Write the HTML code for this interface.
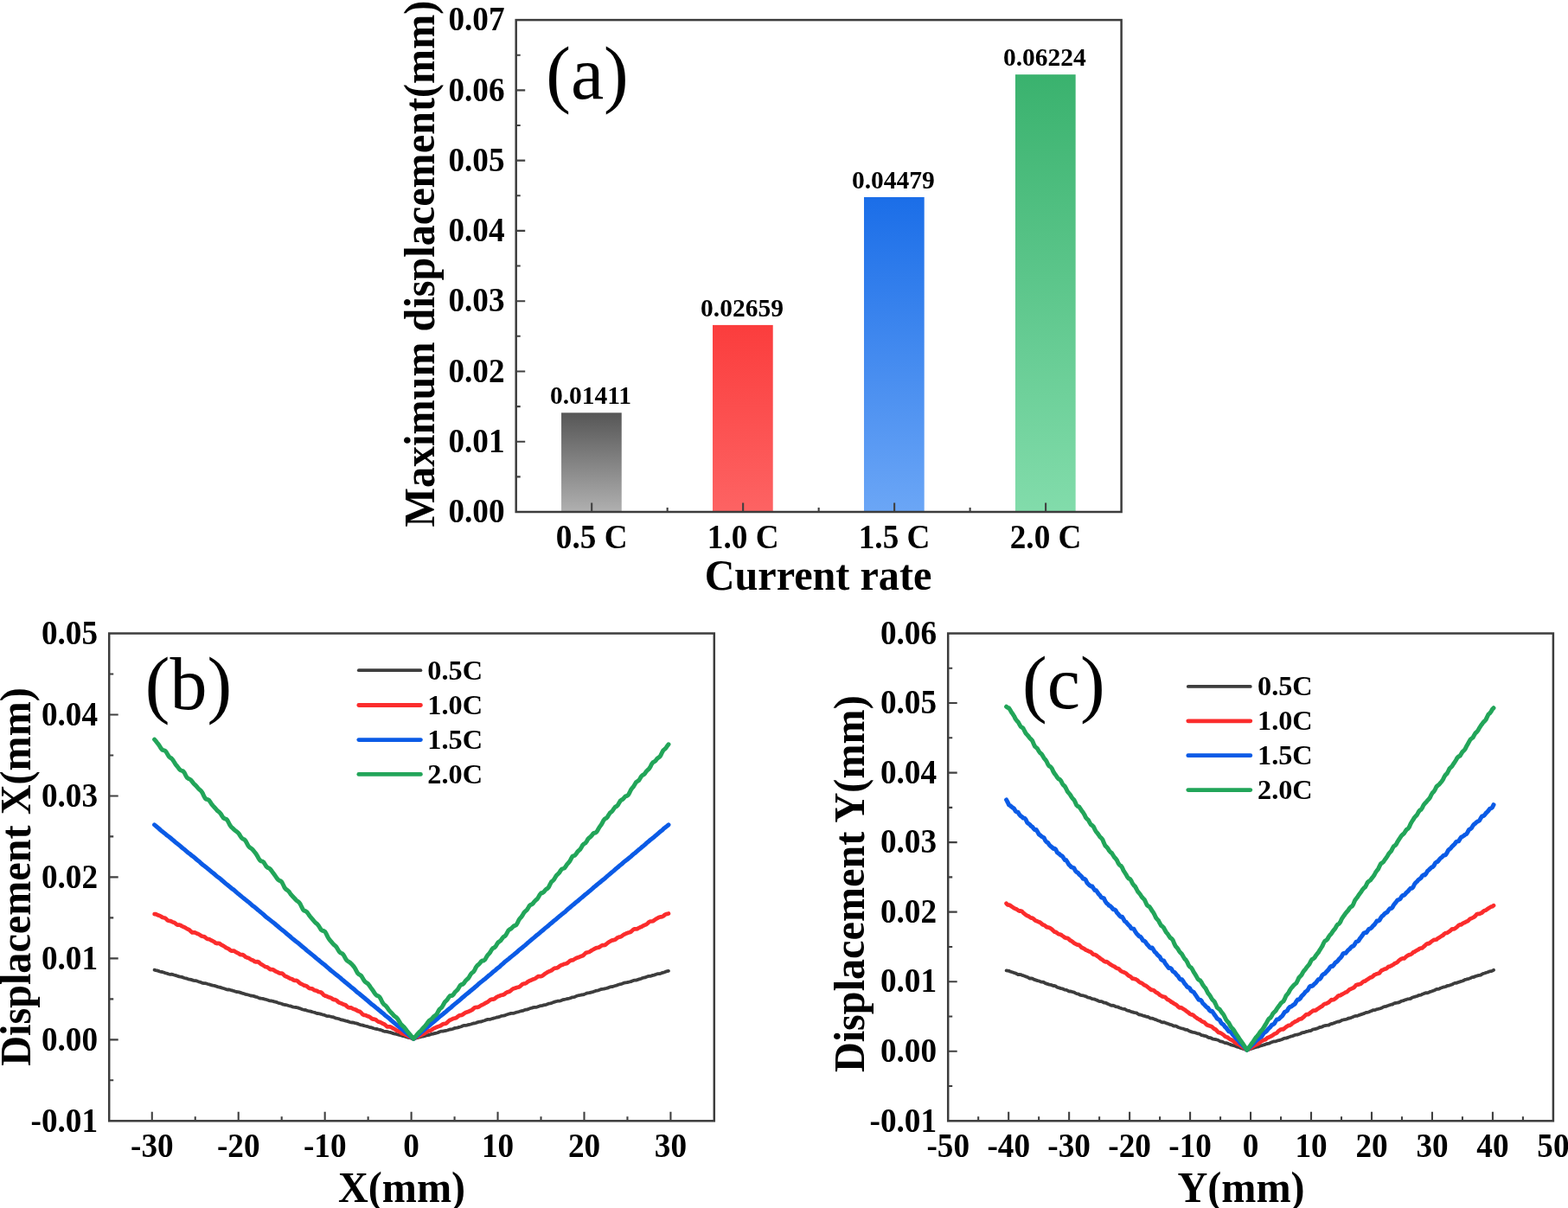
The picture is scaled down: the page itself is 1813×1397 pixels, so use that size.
<!DOCTYPE html>
<html lang="en"><head><meta charset="utf-8"><title>Maximum displacement versus current rate</title>
<style>
html,body{margin:0;padding:0;background:#fff;}
body{width:1813px;height:1397px;overflow:hidden;}
svg{display:block;font-family:"Liberation Serif","DejaVu Serif",serif;fill:#000;}
</style></head><body>
<svg width="1813" height="1397" viewBox="0 0 1813 1397">
<rect width="1813" height="1397" fill="#fff"/>
<defs>
<linearGradient id="g0" x1="0" y1="0" x2="0" y2="1"><stop offset="0" stop-color="#565656"/><stop offset="1" stop-color="#b0b0b0"/></linearGradient>
<linearGradient id="g1" x1="0" y1="0" x2="0" y2="1"><stop offset="0" stop-color="#fb3d3d"/><stop offset="1" stop-color="#fd6363"/></linearGradient>
<linearGradient id="g2" x1="0" y1="0" x2="0" y2="1"><stop offset="0" stop-color="#1b6ee8"/><stop offset="1" stop-color="#6ba6f6"/></linearGradient>
<linearGradient id="g3" x1="0" y1="0" x2="0" y2="1"><stop offset="0" stop-color="#3ab26e"/><stop offset="1" stop-color="#82dcab"/></linearGradient>
</defs>
<rect x="649.04" y="477.33" width="69.7" height="114.67" fill="url(#g0)"/>
<text transform="translate(683.0 466.9)" font-size="29.5" font-weight="bold" text-anchor="middle">0.01411</text>
<rect x="824.01" y="375.90" width="69.7" height="216.10" fill="url(#g1)"/>
<text transform="translate(858.0 365.5)" font-size="29.5" font-weight="bold" text-anchor="middle">0.02659</text>
<rect x="998.99" y="227.99" width="69.7" height="364.01" fill="url(#g2)"/>
<text transform="translate(1032.9 217.6)" font-size="29.5" font-weight="bold" text-anchor="middle">0.04479</text>
<rect x="1173.96" y="86.17" width="69.7" height="505.83" fill="url(#g3)"/>
<text transform="translate(1207.9 75.8)" font-size="29.5" font-weight="bold" text-anchor="middle">0.06224</text>
<rect x="596.7" y="23.1" width="699.90" height="568.90" fill="none" stroke="#3c3c3c" stroke-width="2.5"/>
<path d="M596.7 104.37h10.5M596.7 185.64h10.5M596.7 266.91h10.5M596.7 348.19h10.5M596.7 429.46h10.5M596.7 510.73h10.5" stroke="#404040" stroke-width="2.1" fill="none"/>
<path d="M596.7 63.74h5.0M596.7 145.01h5.0M596.7 226.28h5.0M596.7 307.55h5.0M596.7 388.82h5.0M596.7 470.09h5.0M596.7 551.36h5.0" stroke="#404040" stroke-width="2.1" fill="none"/>
<path d="M684.19 592.0v-10.5M859.16 592.0v-10.5M1034.14 592.0v-10.5M1209.11 592.0v-10.5" stroke="#404040" stroke-width="2.1" fill="none"/>
<path d="M771.67 592.0v-5.0M946.65 592.0v-5.0M1121.62 592.0v-5.0" stroke="#404040" stroke-width="2.1" fill="none"/>
<text transform="translate(583.5 604.2) scale(1 1.07)" font-size="37.2" font-weight="bold" text-anchor="end">0.00</text>
<text transform="translate(583.5 522.9) scale(1 1.07)" font-size="37.2" font-weight="bold" text-anchor="end">0.01</text>
<text transform="translate(583.5 441.7) scale(1 1.07)" font-size="37.2" font-weight="bold" text-anchor="end">0.02</text>
<text transform="translate(583.5 360.4) scale(1 1.07)" font-size="37.2" font-weight="bold" text-anchor="end">0.03</text>
<text transform="translate(583.5 279.1) scale(1 1.07)" font-size="37.2" font-weight="bold" text-anchor="end">0.04</text>
<text transform="translate(583.5 197.8) scale(1 1.07)" font-size="37.2" font-weight="bold" text-anchor="end">0.05</text>
<text transform="translate(583.5 116.6) scale(1 1.07)" font-size="37.2" font-weight="bold" text-anchor="end">0.06</text>
<text transform="translate(583.5 35.3) scale(1 1.07)" font-size="37.2" font-weight="bold" text-anchor="end">0.07</text>
<text transform="translate(684.2 634.3) scale(1 1.07)" font-size="37.2" font-weight="bold" text-anchor="middle">0.5 C</text>
<text transform="translate(859.2 634.3) scale(1 1.07)" font-size="37.2" font-weight="bold" text-anchor="middle">1.0 C</text>
<text transform="translate(1034.1 634.3) scale(1 1.07)" font-size="37.2" font-weight="bold" text-anchor="middle">1.5 C</text>
<text transform="translate(1209.1 634.3) scale(1 1.07)" font-size="37.2" font-weight="bold" text-anchor="middle">2.0 C</text>
<text transform="translate(946.0 682) scale(1 1.07)" font-size="48.2" font-weight="bold" text-anchor="middle">Current rate</text>
<text transform="translate(501.5 305.1) rotate(-90) scale(1 1.07)" font-size="48.2" font-weight="bold" text-anchor="middle">Maximum displacement(mm)</text>
<text transform="translate(679 114)" font-size="86" font-weight="normal" text-anchor="middle">(a)</text>
<path d="M178.6 1121.7 L180.1 1122.1 L181.6 1122.4 L183.1 1122.8 L184.6 1123.5 L186.1 1123.8 L187.6 1124.0 L189.1 1124.5 L190.6 1125.1 L192.1 1125.5 L193.7 1125.9 L195.2 1126.5 L196.7 1126.8 L198.2 1126.7 L199.7 1126.9 L201.2 1127.5 L202.7 1127.9 L204.2 1128.3 L205.7 1128.9 L207.2 1129.4 L208.7 1129.6 L210.2 1129.9 L211.7 1130.4 L213.2 1131.0 L214.7 1131.3 L216.2 1131.7 L217.7 1132.3 L219.2 1132.6 L220.7 1132.9 L222.2 1133.4 L223.8 1133.9 L225.3 1134.1 L226.8 1134.2 L228.3 1134.8 L229.8 1135.3 L231.3 1135.7 L232.8 1136.3 L234.3 1136.9 L235.8 1137.1 L237.3 1137.1 L238.8 1137.5 L240.3 1138.0 L241.8 1138.4 L243.3 1138.8 L244.8 1139.4 L246.3 1139.7 L247.8 1139.9 L249.3 1140.3 L250.8 1140.9 L252.3 1141.3 L253.9 1141.6 L255.4 1142.1 L256.9 1142.7 L258.4 1143.0 L259.9 1143.5 L261.4 1144.1 L262.9 1144.5 L264.4 1144.5 L265.9 1144.7 L267.4 1145.2 L268.9 1145.6 L270.4 1146.0 L271.9 1146.6 L273.4 1147.0 L274.9 1147.1 L276.4 1147.4 L277.9 1147.9 L279.4 1148.4 L280.9 1148.8 L282.4 1149.3 L284.0 1149.9 L285.5 1150.2 L287.0 1150.5 L288.5 1151.0 L290.0 1151.5 L291.5 1151.7 L293.0 1151.9 L294.5 1152.4 L296.0 1152.9 L297.5 1153.2 L299.0 1153.9 L300.5 1154.5 L302.0 1154.7 L303.5 1154.8 L305.0 1155.2 L306.5 1155.7 L308.0 1156.0 L309.5 1156.5 L311.0 1157.1 L312.5 1157.4 L314.1 1157.5 L315.6 1157.8 L317.1 1158.4 L318.6 1158.7 L320.1 1159.1 L321.6 1159.7 L323.1 1160.2 L324.6 1160.5 L326.1 1161.0 L327.6 1161.7 L329.1 1162.0 L330.6 1162.2 L332.1 1162.5 L333.6 1163.0 L335.1 1163.3 L336.6 1163.7 L338.1 1164.3 L339.6 1164.7 L341.1 1164.8 L342.6 1165.0 L344.2 1165.4 L345.7 1165.9 L347.2 1166.3 L348.7 1166.9 L350.2 1167.5 L351.7 1167.8 L353.2 1168.0 L354.7 1168.6 L356.2 1169.0 L357.7 1169.3 L359.2 1169.6 L360.7 1170.1 L362.2 1170.5 L363.7 1170.8 L365.2 1171.4 L366.7 1172.0 L368.2 1172.2 L369.7 1172.4 L371.2 1172.8 L372.7 1173.3 L374.3 1173.6 L375.8 1174.2 L377.3 1174.8 L378.8 1175.1 L380.3 1175.2 L381.8 1175.5 L383.3 1175.9 L384.8 1176.2 L386.3 1176.6 L387.8 1177.3 L389.3 1177.7 L390.8 1178.0 L392.3 1178.4 L393.8 1179.1 L395.3 1179.5 L396.8 1179.7 L398.3 1180.2 L399.8 1180.6 L401.3 1180.9 L402.8 1181.4 L404.4 1182.0 L405.9 1182.4 L407.4 1182.5 L408.9 1182.7 L410.4 1183.1 L411.9 1183.4 L413.4 1183.8 L414.9 1184.5 L416.4 1185.1 L417.9 1185.3 L419.4 1185.6 L420.9 1186.1 L422.4 1186.5 L423.9 1186.8 L425.4 1187.3 L426.9 1187.8 L428.4 1188.1 L429.9 1188.4 L431.4 1189.0 L432.9 1189.5 L434.5 1189.8 L436.0 1190.0 L437.5 1190.5 L439.0 1190.8 L440.5 1191.2 L442.0 1191.8 L443.5 1192.5 L445.0 1192.8 L446.5 1192.9 L448.0 1193.2 L449.5 1193.6 L451.0 1193.9 L452.5 1194.3 L454.0 1194.9 L455.5 1195.3 L457.0 1195.6 L458.5 1196.0 L460.0 1196.5 L461.5 1196.9 L463.0 1197.2 L464.6 1197.7 L466.1 1198.2 L467.6 1198.5 L469.1 1198.9 L470.6 1199.4 L472.1 1199.8 L473.6 1200.1 L475.1 1200.5 L476.6 1200.9 L478.1 1201.3 L479.6 1200.9 L481.1 1200.5 L482.6 1200.1 L484.1 1199.7 L485.6 1199.4 L487.1 1199.0 L488.6 1198.7 L490.1 1198.3 L491.6 1197.9 L493.1 1197.5 L494.7 1197.2 L496.2 1196.9 L497.7 1196.3 L499.2 1195.8 L500.7 1195.6 L502.2 1195.2 L503.7 1194.8 L505.2 1194.5 L506.7 1194.0 L508.2 1193.2 L509.7 1192.7 L511.2 1192.6 L512.7 1192.5 L514.2 1192.1 L515.7 1191.8 L517.2 1191.5 L518.7 1191.0 L520.2 1190.5 L521.7 1190.4 L523.2 1190.0 L524.7 1189.4 L526.2 1188.9 L527.8 1188.7 L529.3 1188.4 L530.8 1187.9 L532.3 1187.5 L533.8 1187.0 L535.3 1186.3 L536.8 1185.8 L538.3 1185.8 L539.8 1185.6 L541.3 1185.2 L542.8 1184.8 L544.3 1184.5 L545.8 1184.0 L547.3 1183.5 L548.8 1183.3 L550.3 1183.0 L551.8 1182.3 L553.3 1181.9 L554.8 1181.7 L556.3 1181.5 L557.8 1180.9 L559.3 1180.5 L560.9 1180.0 L562.4 1179.3 L563.9 1178.9 L565.4 1178.9 L566.9 1178.8 L568.4 1178.3 L569.9 1177.8 L571.4 1177.4 L572.9 1177.0 L574.4 1176.5 L575.9 1176.3 L577.4 1175.9 L578.9 1175.3 L580.4 1174.8 L581.9 1174.7 L583.4 1174.4 L584.9 1173.8 L586.4 1173.3 L587.9 1172.8 L589.4 1172.3 L590.9 1171.9 L592.4 1171.9 L594.0 1171.8 L595.5 1171.2 L597.0 1170.7 L598.5 1170.4 L600.0 1170.0 L601.5 1169.5 L603.0 1169.2 L604.5 1168.9 L606.0 1168.3 L607.5 1167.7 L609.0 1167.6 L610.5 1167.2 L612.0 1166.6 L613.5 1166.0 L615.0 1165.6 L616.5 1165.1 L618.0 1164.8 L619.5 1164.8 L621.0 1164.6 L622.5 1164.0 L624.0 1163.4 L625.5 1163.1 L627.1 1162.8 L628.6 1162.4 L630.1 1162.1 L631.6 1161.8 L633.1 1161.2 L634.6 1160.6 L636.1 1160.4 L637.6 1160.1 L639.1 1159.4 L640.6 1158.8 L642.1 1158.4 L643.6 1158.0 L645.1 1157.7 L646.6 1157.6 L648.1 1157.4 L649.6 1156.7 L651.1 1156.1 L652.6 1155.8 L654.1 1155.5 L655.6 1155.1 L657.1 1154.8 L658.7 1154.5 L660.2 1153.9 L661.7 1153.3 L663.2 1153.1 L664.7 1152.8 L666.2 1152.1 L667.7 1151.5 L669.2 1151.2 L670.7 1150.9 L672.2 1150.5 L673.7 1150.4 L675.2 1150.1 L676.7 1149.4 L678.2 1148.7 L679.7 1148.4 L681.2 1148.2 L682.7 1147.8 L684.2 1147.4 L685.7 1147.1 L687.2 1146.5 L688.7 1145.9 L690.2 1145.6 L691.8 1145.3 L693.3 1144.7 L694.8 1144.1 L696.3 1143.8 L697.8 1143.6 L699.3 1143.3 L700.8 1143.0 L702.3 1142.7 L703.8 1142.0 L705.3 1141.4 L706.8 1141.1 L708.3 1141.0 L709.8 1140.5 L711.3 1140.0 L712.8 1139.7 L714.3 1139.1 L715.8 1138.5 L717.3 1138.1 L718.8 1137.8 L720.3 1137.2 L721.8 1136.6 L723.3 1136.4 L724.9 1136.2 L726.4 1135.8 L727.9 1135.5 L729.4 1135.2 L730.9 1134.5 L732.4 1133.9 L733.9 1133.7 L735.4 1133.6 L736.9 1133.2 L738.4 1132.6 L739.9 1132.2 L741.4 1131.7 L742.9 1131.0 L744.4 1130.7 L745.9 1130.4 L747.4 1129.8 L748.9 1129.2 L750.4 1128.9 L751.9 1128.8 L753.4 1128.4 L754.9 1127.9 L756.4 1127.6 L758.0 1127.0 L759.5 1126.4 L761.0 1126.2 L762.5 1126.2 L764.0 1125.7 L765.5 1125.1 L767.0 1124.7 L768.5 1124.2 L770.0 1123.6 L771.5 1123.2 L773.0 1122.9" fill="none" stroke="#3d3d3d" stroke-width="3.8" stroke-linejoin="round" stroke-linecap="round"/>
<path d="M178.6 1057.1 L180.1 1057.2 L181.6 1057.9 L183.1 1058.6 L184.6 1059.0 L186.1 1059.8 L187.6 1060.8 L189.1 1061.2 L190.6 1061.5 L192.1 1062.7 L193.7 1064.3 L195.2 1064.9 L196.7 1065.0 L198.2 1065.7 L199.7 1066.4 L201.2 1066.8 L202.7 1067.7 L204.2 1069.1 L205.7 1069.7 L207.2 1069.5 L208.7 1069.9 L210.2 1071.0 L211.7 1071.8 L213.2 1072.3 L214.7 1073.1 L216.2 1074.1 L217.7 1074.7 L219.2 1075.6 L220.7 1077.2 L222.2 1078.4 L223.8 1078.4 L225.3 1078.4 L226.8 1079.1 L228.3 1079.8 L229.8 1080.4 L231.3 1081.3 L232.8 1082.4 L234.3 1082.8 L235.8 1083.0 L237.3 1084.0 L238.8 1085.4 L240.3 1086.0 L241.8 1086.2 L243.3 1086.9 L244.8 1087.8 L246.3 1088.4 L247.8 1089.3 L249.3 1090.6 L250.8 1091.1 L252.3 1090.8 L253.9 1091.1 L255.4 1092.3 L256.9 1093.2 L258.4 1093.9 L259.9 1094.9 L261.4 1096.0 L262.9 1096.6 L264.4 1097.3 L265.9 1098.6 L267.4 1099.7 L268.9 1099.6 L270.4 1099.6 L271.9 1100.5 L273.4 1101.4 L274.9 1102.1 L276.4 1103.0 L277.9 1104.0 L279.4 1104.2 L280.9 1104.2 L282.4 1105.2 L284.0 1106.7 L285.5 1107.4 L287.0 1107.7 L288.5 1108.6 L290.0 1109.6 L291.5 1110.2 L293.0 1110.9 L294.5 1112.0 L296.0 1112.4 L297.5 1112.1 L299.0 1112.5 L300.5 1114.0 L302.0 1115.2 L303.5 1115.9 L305.0 1116.9 L306.5 1117.9 L308.0 1118.3 L309.5 1118.8 L311.0 1120.0 L312.5 1121.1 L314.1 1121.2 L315.6 1121.3 L317.1 1122.3 L318.6 1123.3 L320.1 1123.9 L321.6 1124.6 L323.1 1125.4 L324.6 1125.6 L326.1 1125.6 L327.6 1126.8 L329.1 1128.4 L330.6 1129.3 L332.1 1129.8 L333.6 1130.6 L335.1 1131.5 L336.6 1131.9 L338.1 1132.5 L339.6 1133.6 L341.1 1134.0 L342.6 1133.9 L344.2 1134.6 L345.7 1136.2 L347.2 1137.4 L348.7 1138.0 L350.2 1138.8 L351.7 1139.6 L353.2 1139.9 L354.7 1140.4 L356.2 1141.8 L357.7 1143.0 L359.2 1143.2 L360.7 1143.3 L362.2 1144.3 L363.7 1145.2 L365.2 1145.6 L366.7 1146.1 L368.2 1147.0 L369.7 1147.3 L371.2 1147.6 L372.7 1148.9 L374.3 1150.7 L375.8 1151.6 L377.3 1151.9 L378.8 1152.6 L380.3 1153.3 L381.8 1153.7 L383.3 1154.4 L384.8 1155.5 L386.3 1156.2 L387.8 1156.2 L389.3 1157.0 L390.8 1158.5 L392.3 1159.6 L393.8 1160.0 L395.3 1160.6 L396.8 1161.4 L398.3 1161.8 L399.8 1162.5 L401.3 1164.0 L402.8 1165.2 L404.4 1165.3 L405.9 1165.4 L407.4 1166.2 L408.9 1167.0 L410.4 1167.3 L411.9 1168.0 L413.4 1169.0 L414.9 1169.6 L416.4 1170.1 L417.9 1171.5 L419.4 1173.2 L420.9 1173.9 L422.4 1174.0 L423.9 1174.6 L425.4 1175.3 L426.9 1175.8 L428.4 1176.7 L429.9 1178.0 L431.4 1178.7 L432.9 1178.7 L434.5 1179.2 L436.0 1180.6 L437.5 1181.6 L439.0 1181.9 L440.5 1182.6 L442.0 1183.5 L443.5 1184.1 L445.0 1184.9 L446.5 1186.4 L448.0 1187.5 L449.5 1187.4 L451.0 1187.3 L452.5 1188.1 L454.0 1189.0 L455.5 1189.7 L457.0 1190.5 L458.5 1191.6 L460.0 1192.3 L461.5 1192.9 L463.0 1193.9 L464.6 1195.0 L466.1 1195.6 L467.6 1196.1 L469.1 1196.8 L470.6 1197.6 L472.1 1198.3 L473.6 1199.1 L475.1 1199.9 L476.6 1200.6 L478.1 1201.3 L479.6 1200.6 L481.1 1199.8 L482.6 1199.0 L484.1 1198.3 L485.6 1197.6 L487.1 1196.9 L488.6 1196.2 L490.1 1195.4 L491.6 1194.5 L493.1 1193.4 L494.7 1192.6 L496.2 1192.2 L497.7 1191.8 L499.2 1190.9 L500.7 1189.8 L502.2 1189.0 L503.7 1188.4 L505.2 1187.7 L506.7 1187.1 L508.2 1186.7 L509.7 1186.0 L511.2 1184.9 L512.7 1184.1 L514.2 1184.0 L515.7 1183.6 L517.2 1182.4 L518.7 1180.8 L520.2 1179.7 L521.7 1179.1 L523.2 1178.4 L524.7 1177.8 L526.2 1177.5 L527.8 1176.8 L529.3 1175.6 L530.8 1174.5 L532.3 1174.1 L533.8 1173.9 L535.3 1173.1 L536.8 1171.9 L538.3 1171.0 L539.8 1170.5 L541.3 1170.0 L542.8 1169.3 L544.3 1168.7 L545.8 1167.9 L547.3 1166.6 L548.8 1165.3 L550.3 1164.9 L551.8 1165.0 L553.3 1164.6 L554.8 1163.6 L556.3 1162.6 L557.8 1162.0 L559.3 1161.2 L560.9 1160.2 L562.4 1159.5 L563.9 1158.7 L565.4 1157.5 L566.9 1156.2 L568.4 1155.7 L569.9 1155.7 L571.4 1155.3 L572.9 1154.1 L574.4 1153.0 L575.9 1152.2 L577.4 1151.7 L578.9 1151.1 L580.4 1150.7 L581.9 1150.4 L583.4 1149.6 L584.9 1148.3 L586.4 1147.4 L587.9 1147.1 L589.4 1146.5 L590.9 1145.3 L592.4 1144.0 L594.0 1143.2 L595.5 1142.8 L597.0 1142.2 L598.5 1141.8 L600.0 1141.4 L601.5 1140.5 L603.0 1139.1 L604.5 1137.9 L606.0 1137.5 L607.5 1137.3 L609.0 1136.4 L610.5 1135.2 L612.0 1134.4 L613.5 1133.8 L615.0 1133.1 L616.5 1132.4 L618.0 1132.0 L619.5 1131.2 L621.0 1130.0 L622.5 1129.1 L624.0 1129.0 L625.5 1129.1 L627.1 1128.5 L628.6 1127.3 L630.1 1126.1 L631.6 1125.3 L633.1 1124.3 L634.6 1123.4 L636.1 1122.9 L637.6 1122.3 L639.1 1121.2 L640.6 1120.0 L642.1 1119.6 L643.6 1119.5 L645.1 1118.9 L646.6 1117.7 L648.1 1116.6 L649.6 1115.9 L651.1 1115.4 L652.6 1114.8 L654.1 1114.5 L655.6 1114.0 L657.1 1112.9 L658.7 1111.4 L660.2 1110.6 L661.7 1110.4 L663.2 1109.9 L664.7 1108.9 L666.2 1108.0 L667.7 1107.5 L669.2 1107.0 L670.7 1106.4 L672.2 1105.8 L673.7 1105.3 L675.2 1104.1 L676.7 1102.5 L678.2 1101.5 L679.7 1101.3 L681.2 1101.0 L682.7 1100.1 L684.2 1099.0 L685.7 1098.2 L687.2 1097.4 L688.7 1096.6 L690.2 1096.1 L691.8 1095.8 L693.3 1095.2 L694.8 1094.1 L696.3 1093.2 L697.8 1093.1 L699.3 1093.0 L700.8 1092.0 L702.3 1090.7 L703.8 1089.6 L705.3 1088.7 L706.8 1087.9 L708.3 1087.3 L709.8 1087.1 L711.3 1086.6 L712.8 1085.4 L714.3 1084.2 L715.8 1083.7 L717.3 1083.5 L718.8 1082.7 L720.3 1081.5 L721.8 1080.6 L723.3 1079.9 L724.9 1079.2 L726.4 1078.6 L727.9 1078.2 L729.4 1077.6 L730.9 1076.3 L732.4 1074.9 L733.9 1074.3 L735.4 1074.4 L736.9 1074.1 L738.4 1073.3 L739.9 1072.5 L741.4 1071.9 L742.9 1071.1 L744.4 1070.2 L745.9 1069.6 L747.4 1069.0 L748.9 1067.7 L750.4 1066.3 L751.9 1065.5 L753.4 1065.5 L754.9 1065.2 L756.4 1064.2 L758.0 1063.1 L759.5 1062.2 L761.0 1061.4 L762.5 1060.7 L764.0 1060.3 L765.5 1060.1 L767.0 1059.4 L768.5 1058.1 L770.0 1057.2 L771.5 1056.9 L773.0 1056.5" fill="none" stroke="#fb2c2c" stroke-width="4.7" stroke-linejoin="round" stroke-linecap="round"/>
<path d="M178.6 953.9 L180.1 955.1 L181.6 956.4 L183.1 957.7 L184.6 959.0 L186.1 960.3 L187.6 961.6 L189.1 962.7 L190.6 963.9 L192.1 965.2 L193.7 966.5 L195.2 967.5 L196.7 968.7 L198.2 970.0 L199.7 971.3 L201.2 972.5 L202.7 973.8 L204.2 975.1 L205.7 976.2 L207.2 977.4 L208.7 978.7 L210.2 980.0 L211.7 981.2 L213.2 982.3 L214.7 983.6 L216.2 985.0 L217.7 986.2 L219.2 987.3 L220.7 988.5 L222.2 989.8 L223.8 990.9 L225.3 992.2 L226.8 993.5 L228.3 994.8 L229.8 995.9 L231.3 997.2 L232.8 998.7 L234.3 1000.0 L235.8 1001.1 L237.3 1002.2 L238.8 1003.4 L240.3 1004.7 L241.8 1005.8 L243.3 1007.1 L244.8 1008.4 L246.3 1009.5 L247.8 1010.7 L249.3 1012.1 L250.8 1013.4 L252.3 1014.5 L253.9 1015.6 L255.4 1016.9 L256.9 1018.3 L258.4 1019.5 L259.9 1020.8 L261.4 1022.1 L262.9 1023.3 L264.4 1024.5 L265.9 1025.7 L267.4 1027.0 L268.9 1028.2 L270.4 1029.2 L271.9 1030.5 L273.4 1031.9 L274.9 1033.2 L276.4 1034.3 L277.9 1035.6 L279.4 1036.9 L280.9 1038.1 L282.4 1039.3 L284.0 1040.6 L285.5 1041.8 L287.0 1042.9 L288.5 1044.1 L290.0 1045.5 L291.5 1046.9 L293.0 1048.0 L294.5 1049.1 L296.0 1050.4 L297.5 1051.7 L299.0 1052.9 L300.5 1054.1 L302.0 1055.4 L303.5 1056.6 L305.0 1057.9 L306.5 1059.3 L308.0 1060.7 L309.5 1061.8 L311.0 1062.9 L312.5 1064.1 L314.1 1065.4 L315.6 1066.6 L317.1 1067.7 L318.6 1069.0 L320.1 1070.3 L321.6 1071.5 L323.1 1072.8 L324.6 1074.1 L326.1 1075.3 L327.6 1076.4 L329.1 1077.6 L330.6 1079.0 L332.1 1080.3 L333.6 1081.5 L335.1 1082.7 L336.6 1084.1 L338.1 1085.4 L339.6 1086.5 L341.1 1087.8 L342.6 1089.0 L344.2 1090.1 L345.7 1091.3 L347.2 1092.7 L348.7 1094.0 L350.2 1095.2 L351.7 1096.4 L353.2 1097.7 L354.7 1099.1 L356.2 1100.3 L357.7 1101.4 L359.2 1102.7 L360.7 1103.9 L362.2 1105.1 L363.7 1106.3 L365.2 1107.7 L366.7 1108.9 L368.2 1110.0 L369.7 1111.3 L371.2 1112.6 L372.7 1113.9 L374.3 1115.0 L375.8 1116.2 L377.3 1117.6 L378.8 1118.9 L380.3 1120.2 L381.8 1121.5 L383.3 1122.8 L384.8 1123.9 L386.3 1125.1 L387.8 1126.4 L389.3 1127.7 L390.8 1128.7 L392.3 1129.9 L393.8 1131.2 L395.3 1132.6 L396.8 1133.8 L398.3 1135.0 L399.8 1136.3 L401.3 1137.5 L402.8 1138.7 L404.4 1140.0 L405.9 1141.4 L407.4 1142.5 L408.9 1143.7 L410.4 1145.0 L411.9 1146.5 L413.4 1147.7 L414.9 1148.8 L416.4 1150.0 L417.9 1151.3 L419.4 1152.5 L420.9 1153.7 L422.4 1155.0 L423.9 1156.3 L425.4 1157.5 L426.9 1158.8 L428.4 1160.2 L429.9 1161.5 L431.4 1162.6 L432.9 1163.7 L434.5 1165.1 L436.0 1166.3 L437.5 1167.5 L439.0 1168.7 L440.5 1170.0 L442.0 1171.2 L443.5 1172.4 L445.0 1173.8 L446.5 1175.1 L448.0 1176.2 L449.5 1177.3 L451.0 1178.7 L452.5 1180.1 L454.0 1181.3 L455.5 1182.6 L457.0 1183.9 L458.5 1185.1 L460.0 1186.4 L461.5 1187.6 L463.0 1188.8 L464.6 1190.0 L466.1 1191.2 L467.6 1192.5 L469.1 1193.8 L470.6 1195.1 L472.1 1196.3 L473.6 1197.5 L475.1 1198.8 L476.6 1200.1 L478.1 1201.3 L479.6 1200.0 L481.1 1198.8 L482.6 1197.5 L484.1 1196.3 L485.6 1195.0 L487.1 1193.7 L488.6 1192.4 L490.1 1191.2 L491.6 1189.9 L493.1 1188.6 L494.7 1187.4 L496.2 1186.2 L497.7 1184.8 L499.2 1183.6 L500.7 1182.4 L502.2 1181.1 L503.7 1179.8 L505.2 1178.6 L506.7 1177.2 L508.2 1175.8 L509.7 1174.7 L511.2 1173.6 L512.7 1172.3 L514.2 1171.0 L515.7 1169.9 L517.2 1168.5 L518.7 1167.2 L520.2 1166.1 L521.7 1164.8 L523.2 1163.4 L524.7 1162.1 L526.2 1160.9 L527.8 1159.6 L529.3 1158.3 L530.8 1157.2 L532.3 1155.9 L533.8 1154.5 L535.3 1153.2 L536.8 1152.0 L538.3 1150.6 L539.8 1149.4 L541.3 1148.3 L542.8 1147.0 L544.3 1145.7 L545.8 1144.5 L547.3 1143.3 L548.8 1142.0 L550.3 1140.7 L551.8 1139.5 L553.3 1138.0 L554.8 1136.7 L556.3 1135.6 L557.8 1134.4 L559.3 1133.1 L560.9 1132.0 L562.4 1130.7 L563.9 1129.3 L565.4 1128.0 L566.9 1126.9 L568.4 1125.6 L569.9 1124.2 L571.4 1123.1 L572.9 1121.8 L574.4 1120.4 L575.9 1119.3 L577.4 1118.2 L578.9 1116.7 L580.4 1115.4 L581.9 1114.1 L583.4 1112.7 L584.9 1111.4 L586.4 1110.3 L587.9 1109.1 L589.4 1107.8 L590.9 1106.6 L592.4 1105.4 L594.0 1104.1 L595.5 1102.8 L597.0 1101.7 L598.5 1100.3 L600.0 1098.9 L601.5 1097.7 L603.0 1096.6 L604.5 1095.3 L606.0 1094.1 L607.5 1092.9 L609.0 1091.5 L610.5 1090.1 L612.0 1088.9 L613.5 1087.6 L615.0 1086.3 L616.5 1085.1 L618.0 1083.9 L619.5 1082.5 L621.0 1081.3 L622.5 1080.2 L624.0 1078.9 L625.5 1077.5 L627.1 1076.3 L628.6 1075.0 L630.1 1073.6 L631.6 1072.4 L633.1 1071.3 L634.6 1070.0 L636.1 1068.6 L637.6 1067.5 L639.1 1066.2 L640.6 1064.8 L642.1 1063.7 L643.6 1062.5 L645.1 1061.1 L646.6 1059.8 L648.1 1058.7 L649.6 1057.4 L651.1 1056.2 L652.6 1055.1 L654.1 1053.8 L655.6 1052.3 L657.1 1051.0 L658.7 1049.8 L660.2 1048.4 L661.7 1047.1 L663.2 1046.0 L664.7 1044.7 L666.2 1043.3 L667.7 1042.2 L669.2 1041.0 L670.7 1039.6 L672.2 1038.4 L673.7 1037.2 L675.2 1035.8 L676.7 1034.5 L678.2 1033.4 L679.7 1032.2 L681.2 1030.9 L682.7 1029.7 L684.2 1028.4 L685.7 1027.0 L687.2 1025.7 L688.7 1024.6 L690.2 1023.2 L691.8 1021.9 L693.3 1020.7 L694.8 1019.5 L696.3 1018.2 L697.8 1017.0 L699.3 1015.9 L700.8 1014.5 L702.3 1013.1 L703.8 1011.9 L705.3 1010.6 L706.8 1009.3 L708.3 1008.1 L709.8 1006.9 L711.3 1005.5 L712.8 1004.2 L714.3 1003.1 L715.8 1001.7 L717.3 1000.4 L718.8 999.3 L720.3 997.9 L721.8 996.5 L723.3 995.4 L724.9 994.3 L726.4 993.0 L727.9 991.8 L729.4 990.6 L730.9 989.2 L732.4 987.8 L733.9 986.7 L735.4 985.5 L736.9 984.1 L738.4 982.8 L739.9 981.6 L741.4 980.3 L742.9 979.0 L744.4 977.9 L745.9 976.6 L747.4 975.2 L748.9 973.9 L750.4 972.7 L751.9 971.3 L753.4 970.2 L754.9 969.1 L756.4 967.8 L758.0 966.4 L759.5 965.2 L761.0 963.9 L762.5 962.5 L764.0 961.3 L765.5 960.2 L767.0 958.7 L768.5 957.4 L770.0 956.3 L771.5 955.1 L773.0 953.8" fill="none" stroke="#0b5be6" stroke-width="5.0" stroke-linejoin="round" stroke-linecap="round"/>
<path d="M178.6 855.2 L180.1 856.9 L181.6 858.8 L183.1 860.6 L184.6 862.9 L186.1 865.3 L187.6 867.1 L189.1 867.7 L190.6 868.1 L192.1 869.6 L193.7 872.3 L195.2 874.8 L196.7 876.1 L198.2 877.0 L199.7 878.6 L201.2 881.0 L202.7 883.4 L204.2 885.4 L205.7 887.3 L207.2 889.3 L208.7 890.7 L210.2 891.3 L211.7 891.9 L213.2 893.7 L214.7 896.7 L216.2 899.2 L217.7 900.4 L219.2 901.0 L220.7 902.0 L222.2 903.9 L223.8 905.9 L225.3 907.4 L226.8 908.8 L228.3 910.6 L229.8 912.3 L231.3 913.6 L232.8 915.0 L234.3 917.4 L235.8 920.7 L237.3 923.3 L238.8 924.3 L240.3 924.6 L241.8 925.6 L243.3 927.7 L244.8 930.1 L246.3 931.9 L247.8 933.5 L249.3 935.2 L250.8 937.0 L252.3 938.3 L253.9 939.5 L255.4 941.4 L256.9 943.9 L258.4 946.0 L259.9 946.8 L261.4 947.2 L262.9 948.6 L264.4 951.4 L265.9 954.3 L267.4 956.4 L268.9 957.7 L270.4 959.1 L271.9 960.5 L273.4 961.6 L274.9 962.7 L276.4 964.4 L277.9 966.9 L279.4 969.1 L280.9 970.2 L282.4 970.8 L284.0 972.5 L285.5 975.3 L287.0 978.2 L288.5 979.9 L290.0 980.8 L291.5 981.9 L293.0 983.7 L294.5 985.5 L296.0 987.4 L297.5 989.8 L299.0 992.6 L300.5 994.8 L302.0 995.8 L303.5 996.2 L305.0 997.3 L306.5 999.7 L308.0 1002.1 L309.5 1003.4 L311.0 1004.0 L312.5 1005.1 L314.1 1007.1 L315.6 1009.3 L317.1 1011.3 L318.6 1013.4 L320.1 1015.6 L321.6 1017.4 L323.1 1018.3 L324.6 1018.8 L326.1 1020.5 L327.6 1023.5 L329.1 1026.6 L330.6 1028.4 L332.1 1029.4 L333.6 1030.6 L335.1 1032.6 L336.6 1034.7 L338.1 1036.4 L339.6 1037.8 L341.1 1039.5 L342.6 1041.2 L344.2 1042.3 L345.7 1043.4 L347.2 1045.5 L348.7 1048.7 L350.2 1051.7 L351.7 1053.2 L353.2 1053.7 L354.7 1054.6 L356.2 1056.5 L357.7 1058.8 L359.2 1060.7 L360.7 1062.4 L362.2 1064.2 L363.7 1066.0 L365.2 1067.4 L366.7 1068.5 L368.2 1070.3 L369.7 1072.8 L371.2 1075.2 L372.7 1076.2 L374.3 1076.5 L375.8 1077.5 L377.3 1080.1 L378.8 1083.2 L380.3 1085.7 L381.8 1087.6 L383.3 1089.4 L384.8 1091.2 L386.3 1092.7 L387.8 1093.9 L389.3 1095.7 L390.8 1098.2 L392.3 1100.7 L393.8 1102.0 L395.3 1102.5 L396.8 1103.8 L398.3 1106.3 L399.8 1109.1 L401.3 1111.0 L402.8 1112.0 L404.4 1112.9 L405.9 1114.3 L407.4 1115.8 L408.9 1117.5 L410.4 1119.6 L411.9 1122.5 L413.4 1125.2 L414.9 1126.8 L416.4 1127.5 L417.9 1128.7 L419.4 1131.2 L420.9 1133.9 L422.4 1135.7 L423.9 1136.6 L425.4 1137.6 L426.9 1139.5 L428.4 1141.7 L429.9 1143.7 L431.4 1145.8 L432.9 1148.2 L434.5 1150.3 L436.0 1151.4 L437.5 1151.9 L439.0 1153.1 L440.5 1155.8 L442.0 1159.0 L443.5 1161.2 L445.0 1162.4 L446.5 1163.7 L448.0 1165.6 L449.5 1167.9 L451.0 1169.6 L452.5 1171.2 L454.0 1172.8 L455.5 1174.5 L457.0 1175.7 L458.5 1176.8 L460.0 1178.6 L461.5 1181.1 L463.0 1183.6 L464.6 1185.5 L466.1 1186.8 L467.6 1188.3 L469.1 1190.2 L470.6 1192.2 L472.1 1194.1 L473.6 1195.9 L475.1 1197.7 L476.6 1199.5 L478.1 1201.3 L479.6 1199.6 L481.1 1197.9 L482.6 1196.0 L484.1 1194.3 L485.6 1192.9 L487.1 1191.4 L488.6 1189.6 L490.1 1187.9 L491.6 1186.4 L493.1 1184.6 L494.7 1182.2 L496.2 1180.3 L497.7 1179.4 L499.2 1178.4 L500.7 1176.6 L502.2 1175.1 L503.7 1174.1 L505.2 1172.4 L506.7 1169.6 L508.2 1167.1 L509.7 1165.9 L511.2 1164.4 L512.7 1161.7 L514.2 1159.1 L515.7 1157.6 L517.2 1156.0 L518.7 1153.6 L520.2 1151.8 L521.7 1151.5 L523.2 1151.2 L524.7 1149.5 L526.2 1147.2 L527.8 1145.7 L529.3 1144.2 L530.8 1141.7 L532.3 1139.4 L533.8 1138.5 L535.3 1138.2 L536.8 1136.5 L538.3 1134.2 L539.8 1132.7 L541.3 1131.5 L542.8 1129.3 L544.3 1126.6 L545.8 1125.0 L547.3 1124.0 L548.8 1121.8 L550.3 1118.7 L551.8 1116.6 L553.3 1115.5 L554.8 1113.9 L556.3 1111.9 L557.8 1111.0 L559.3 1110.9 L560.9 1109.6 L562.4 1106.9 L563.9 1104.5 L565.4 1103.0 L566.9 1101.1 L568.4 1098.4 L569.9 1096.6 L571.4 1096.0 L572.9 1094.7 L574.4 1092.2 L575.9 1089.9 L577.4 1088.9 L578.9 1087.7 L580.4 1085.6 L581.9 1083.7 L583.4 1082.8 L584.9 1081.4 L586.4 1078.6 L587.9 1075.9 L589.4 1074.8 L590.9 1074.0 L592.4 1072.5 L594.0 1070.9 L595.5 1070.4 L597.0 1069.5 L598.5 1066.9 L600.0 1063.7 L601.5 1061.7 L603.0 1060.2 L604.5 1057.8 L606.0 1055.2 L607.5 1053.7 L609.0 1052.6 L610.5 1050.4 L612.0 1047.7 L613.5 1046.3 L615.0 1045.8 L616.5 1044.5 L618.0 1042.4 L619.5 1040.9 L621.0 1039.9 L622.5 1037.7 L624.0 1034.8 L625.5 1033.0 L627.1 1032.5 L628.6 1031.6 L630.1 1029.8 L631.6 1028.3 L633.1 1027.5 L634.6 1025.6 L636.1 1022.4 L637.6 1019.8 L639.1 1018.6 L640.6 1017.0 L642.1 1014.4 L643.6 1012.1 L645.1 1010.8 L646.6 1009.3 L648.1 1006.9 L649.6 1005.0 L651.1 1004.5 L652.6 1004.0 L654.1 1002.0 L655.6 999.6 L657.1 998.0 L658.7 996.2 L660.2 993.3 L661.7 990.7 L663.2 989.7 L664.7 989.1 L666.2 987.4 L667.7 985.1 L669.2 983.7 L670.7 982.4 L672.2 980.0 L673.7 977.3 L675.2 975.9 L676.7 975.1 L678.2 973.2 L679.7 970.5 L681.2 968.8 L682.7 967.8 L684.2 966.2 L685.7 964.2 L687.2 963.2 L688.7 963.0 L690.2 961.6 L691.8 958.7 L693.3 956.2 L694.8 954.3 L696.3 951.9 L697.8 948.9 L699.3 947.0 L700.8 946.3 L702.3 944.9 L703.8 942.3 L705.3 940.1 L706.8 939.0 L708.3 937.5 L709.8 935.2 L711.3 933.3 L712.8 932.5 L714.3 931.2 L715.8 928.6 L717.3 926.1 L718.8 925.0 L720.3 924.1 L721.8 922.4 L723.3 920.8 L724.9 920.3 L726.4 919.4 L727.9 916.7 L729.4 913.5 L730.9 911.4 L732.4 909.8 L733.9 907.3 L735.4 904.8 L736.9 903.6 L738.4 902.7 L739.9 900.6 L741.4 898.0 L742.9 896.5 L744.4 895.8 L745.9 894.2 L747.4 891.9 L748.9 890.4 L750.4 889.2 L751.9 886.9 L753.4 883.7 L754.9 881.7 L756.4 880.9 L758.0 879.7 L759.5 877.7 L761.0 876.3 L762.5 875.4 L764.0 873.4 L765.5 870.2 L767.0 867.6 L768.5 866.4 L770.0 865.0 L771.5 862.7 L773.0 860.8" fill="none" stroke="#22a559" stroke-width="5.0" stroke-linejoin="round" stroke-linecap="round"/>
<rect x="126.2" y="732.5" width="699.60" height="563.80" fill="none" stroke="#3c3c3c" stroke-width="2.5"/>
<path d="M126.2 826.47h10.5M126.2 920.43h10.5M126.2 1014.40h10.5M126.2 1108.37h10.5M126.2 1202.33h10.5" stroke="#404040" stroke-width="2.1" fill="none"/>
<path d="M126.2 779.48h5.0M126.2 873.45h5.0M126.2 967.42h5.0M126.2 1061.38h5.0M126.2 1155.35h5.0M126.2 1249.32h5.0" stroke="#404040" stroke-width="2.1" fill="none"/>
<path d="M175.77 1296.3v-10.5M275.71 1296.3v-10.5M375.66 1296.3v-10.5M475.60 1296.3v-10.5M575.54 1296.3v-10.5M675.49 1296.3v-10.5M775.43 1296.3v-10.5" stroke="#404040" stroke-width="2.1" fill="none"/>
<path d="M225.74 1296.3v-5.0M325.69 1296.3v-5.0M425.63 1296.3v-5.0M525.57 1296.3v-5.0M625.51 1296.3v-5.0M725.46 1296.3v-5.0" stroke="#404040" stroke-width="2.1" fill="none"/>
<text transform="translate(113.0 1308.5) scale(1 1.07)" font-size="37.2" font-weight="bold" text-anchor="end">-0.01</text>
<text transform="translate(113.0 1214.5) scale(1 1.07)" font-size="37.2" font-weight="bold" text-anchor="end">0.00</text>
<text transform="translate(113.0 1120.6) scale(1 1.07)" font-size="37.2" font-weight="bold" text-anchor="end">0.01</text>
<text transform="translate(113.0 1026.6) scale(1 1.07)" font-size="37.2" font-weight="bold" text-anchor="end">0.02</text>
<text transform="translate(113.0 932.6) scale(1 1.07)" font-size="37.2" font-weight="bold" text-anchor="end">0.03</text>
<text transform="translate(113.0 838.7) scale(1 1.07)" font-size="37.2" font-weight="bold" text-anchor="end">0.04</text>
<text transform="translate(113.0 744.7) scale(1 1.07)" font-size="37.2" font-weight="bold" text-anchor="end">0.05</text>
<text transform="translate(175.8 1338.0) scale(1 1.07)" font-size="37.2" font-weight="bold" text-anchor="middle">-30</text>
<text transform="translate(275.7 1338.0) scale(1 1.07)" font-size="37.2" font-weight="bold" text-anchor="middle">-20</text>
<text transform="translate(375.7 1338.0) scale(1 1.07)" font-size="37.2" font-weight="bold" text-anchor="middle">-10</text>
<text transform="translate(475.6 1338.0) scale(1 1.07)" font-size="37.2" font-weight="bold" text-anchor="middle">0</text>
<text transform="translate(575.5 1338.0) scale(1 1.07)" font-size="37.2" font-weight="bold" text-anchor="middle">10</text>
<text transform="translate(675.5 1338.0) scale(1 1.07)" font-size="37.2" font-weight="bold" text-anchor="middle">20</text>
<text transform="translate(775.4 1338.0) scale(1 1.07)" font-size="37.2" font-weight="bold" text-anchor="middle">30</text>
<text transform="translate(464.5 1390) scale(1 1.07)" font-size="48.2" font-weight="bold" text-anchor="middle">X(mm)</text>
<text transform="translate(34.6 1014) rotate(-90) scale(1 1.07)" font-size="48.2" font-weight="bold" text-anchor="middle">Displacement X(mm)</text>
<text transform="translate(218 820)" font-size="86" font-weight="normal" text-anchor="middle">(b)</text>
<path d="M414.8 775.2H486.4" stroke="#3d3d3d" stroke-width="3.8" stroke-linecap="round" fill="none"/>
<text transform="translate(494.3 785.5)" font-size="32.3" font-weight="bold" text-anchor="start">0.5C</text>
<path d="M414.8 815.5H486.4" stroke="#fb2c2c" stroke-width="4.8" stroke-linecap="round" fill="none"/>
<text transform="translate(494.3 825.8)" font-size="32.3" font-weight="bold" text-anchor="start">1.0C</text>
<path d="M414.8 855.6H486.4" stroke="#0b5be6" stroke-width="4.8" stroke-linecap="round" fill="none"/>
<text transform="translate(494.3 865.9)" font-size="32.3" font-weight="bold" text-anchor="start">1.5C</text>
<path d="M414.8 895.4H486.4" stroke="#22a559" stroke-width="4.8" stroke-linecap="round" fill="none"/>
<text transform="translate(494.3 905.7)" font-size="32.3" font-weight="bold" text-anchor="start">2.0C</text>
<path d="M1163.6 1122.4 L1165.1 1122.6 L1166.6 1122.8 L1168.1 1123.6 L1169.6 1124.0 L1171.1 1124.5 L1172.6 1125.1 L1174.1 1125.4 L1175.6 1126.2 L1177.1 1127.1 L1178.6 1127.0 L1180.1 1127.1 L1181.7 1127.8 L1183.2 1128.2 L1184.7 1128.8 L1186.2 1129.4 L1187.7 1129.8 L1189.2 1130.7 L1190.7 1131.5 L1192.2 1131.4 L1193.7 1131.7 L1195.2 1132.6 L1196.7 1133.1 L1198.2 1133.6 L1199.7 1134.1 L1201.2 1134.4 L1202.7 1135.1 L1204.2 1135.7 L1205.7 1135.6 L1207.2 1136.1 L1208.7 1137.1 L1210.2 1137.6 L1211.7 1138.1 L1213.2 1138.6 L1214.7 1138.8 L1216.3 1139.4 L1217.8 1140.0 L1219.3 1140.0 L1220.8 1140.6 L1222.3 1141.7 L1223.8 1142.2 L1225.3 1142.6 L1226.8 1143.1 L1228.3 1143.3 L1229.8 1144.1 L1231.3 1144.7 L1232.8 1144.8 L1234.3 1145.4 L1235.8 1146.3 L1237.3 1146.5 L1238.8 1146.7 L1240.3 1147.2 L1241.8 1147.5 L1243.3 1148.4 L1244.8 1149.1 L1246.3 1149.3 L1247.8 1150.0 L1249.3 1150.9 L1250.9 1151.1 L1252.4 1151.3 L1253.9 1151.8 L1255.4 1152.2 L1256.9 1153.1 L1258.4 1153.7 L1259.9 1153.8 L1261.4 1154.4 L1262.9 1155.2 L1264.4 1155.3 L1265.9 1155.7 L1267.4 1156.4 L1268.9 1156.9 L1270.4 1157.7 L1271.9 1158.2 L1273.4 1158.1 L1274.9 1158.7 L1276.4 1159.5 L1277.9 1159.6 L1279.4 1160.1 L1280.9 1161.0 L1282.4 1161.6 L1283.9 1162.4 L1285.5 1162.8 L1287.0 1162.7 L1288.5 1163.3 L1290.0 1164.1 L1291.5 1164.3 L1293.0 1164.7 L1294.5 1165.5 L1296.0 1165.9 L1297.5 1166.5 L1299.0 1166.8 L1300.5 1166.9 L1302.0 1167.8 L1303.5 1168.7 L1305.0 1168.9 L1306.5 1169.4 L1308.0 1170.1 L1309.5 1170.4 L1311.0 1170.9 L1312.5 1171.2 L1314.0 1171.4 L1315.5 1172.4 L1317.0 1173.3 L1318.5 1173.5 L1320.0 1173.9 L1321.6 1174.6 L1323.1 1174.9 L1324.6 1175.4 L1326.1 1175.8 L1327.6 1176.0 L1329.1 1177.0 L1330.6 1177.7 L1332.1 1177.7 L1333.6 1178.1 L1335.1 1178.8 L1336.6 1179.2 L1338.1 1179.9 L1339.6 1180.5 L1341.1 1180.9 L1342.6 1181.8 L1344.1 1182.4 L1345.6 1182.2 L1347.1 1182.6 L1348.6 1183.3 L1350.1 1183.7 L1351.6 1184.4 L1353.1 1184.9 L1354.6 1185.2 L1356.2 1186.1 L1357.7 1186.6 L1359.2 1186.5 L1360.7 1187.1 L1362.2 1188.0 L1363.7 1188.5 L1365.2 1189.0 L1366.7 1189.4 L1368.2 1189.7 L1369.7 1190.4 L1371.2 1190.9 L1372.7 1190.9 L1374.2 1191.8 L1375.7 1192.7 L1377.2 1193.1 L1378.7 1193.6 L1380.2 1193.9 L1381.7 1194.1 L1383.2 1194.8 L1384.7 1195.3 L1386.2 1195.3 L1387.7 1196.2 L1389.2 1197.1 L1390.8 1197.4 L1392.3 1197.8 L1393.8 1198.2 L1395.3 1198.6 L1396.8 1199.6 L1398.3 1200.1 L1399.8 1200.2 L1401.3 1201.0 L1402.8 1201.7 L1404.3 1201.8 L1405.8 1202.1 L1407.3 1202.5 L1408.8 1203.0 L1410.3 1204.0 L1411.8 1204.5 L1413.3 1204.6 L1414.8 1205.4 L1416.3 1206.1 L1417.8 1206.2 L1419.3 1206.6 L1420.8 1207.2 L1422.3 1207.7 L1423.8 1208.5 L1425.4 1208.9 L1426.9 1209.2 L1428.4 1209.8 L1429.9 1210.4 L1431.4 1210.8 L1432.9 1211.3 L1434.4 1211.9 L1435.9 1212.3 L1437.4 1212.9 L1438.9 1213.3 L1440.4 1213.8 L1441.9 1214.3 L1443.4 1213.8 L1444.9 1213.4 L1446.4 1212.9 L1447.9 1212.4 L1449.4 1211.9 L1450.9 1211.5 L1452.4 1211.0 L1453.9 1210.7 L1455.4 1210.3 L1456.9 1209.6 L1458.4 1209.2 L1459.9 1208.8 L1461.4 1208.3 L1462.9 1207.9 L1464.4 1207.2 L1465.9 1207.0 L1467.4 1206.7 L1468.9 1205.9 L1470.4 1205.2 L1471.9 1204.7 L1473.4 1204.3 L1474.9 1204.4 L1476.4 1203.7 L1477.9 1203.2 L1479.4 1203.1 L1480.9 1202.5 L1482.4 1202.0 L1483.9 1201.3 L1485.4 1200.6 L1486.9 1200.6 L1488.4 1200.2 L1489.9 1199.5 L1491.4 1199.0 L1492.9 1198.4 L1494.4 1198.1 L1495.9 1197.7 L1497.4 1196.8 L1498.9 1196.7 L1500.4 1196.5 L1501.9 1196.0 L1503.4 1195.5 L1504.9 1194.6 L1506.4 1194.1 L1507.9 1194.0 L1509.4 1193.4 L1510.9 1192.9 L1512.4 1192.6 L1513.9 1192.2 L1515.4 1192.0 L1516.9 1191.2 L1518.4 1190.3 L1519.9 1190.2 L1521.4 1189.8 L1522.9 1189.4 L1524.4 1188.8 L1525.9 1188.0 L1527.4 1187.8 L1528.9 1187.4 L1530.4 1186.5 L1531.9 1186.1 L1533.4 1185.8 L1534.9 1185.7 L1536.4 1185.5 L1537.9 1184.6 L1539.4 1184.0 L1540.9 1183.8 L1542.4 1183.1 L1543.9 1182.6 L1545.4 1182.0 L1546.9 1181.5 L1548.4 1181.5 L1549.9 1180.8 L1551.4 1179.9 L1552.9 1179.5 L1554.4 1179.1 L1555.9 1178.9 L1557.4 1178.5 L1558.9 1177.7 L1560.4 1177.5 L1561.9 1177.1 L1563.4 1176.4 L1564.9 1175.8 L1566.4 1175.1 L1567.9 1174.9 L1569.4 1174.9 L1570.9 1174.1 L1572.4 1173.6 L1573.9 1173.1 L1575.4 1172.6 L1576.9 1172.2 L1578.4 1171.4 L1579.9 1170.8 L1581.4 1170.8 L1582.9 1170.3 L1584.5 1169.6 L1586.0 1169.0 L1587.5 1168.2 L1589.0 1168.2 L1590.5 1167.8 L1592.0 1167.1 L1593.5 1166.9 L1595.0 1166.5 L1596.5 1166.1 L1598.0 1165.5 L1599.5 1164.5 L1601.0 1164.1 L1602.5 1163.9 L1604.0 1163.3 L1605.5 1162.8 L1607.0 1162.2 L1608.5 1161.7 L1610.0 1161.5 L1611.5 1160.6 L1613.0 1160.0 L1614.5 1159.8 L1616.0 1159.5 L1617.5 1159.3 L1619.0 1158.5 L1620.5 1157.6 L1622.0 1157.4 L1623.5 1156.9 L1625.0 1156.2 L1626.5 1155.8 L1628.0 1155.3 L1629.5 1155.2 L1631.0 1154.8 L1632.5 1153.8 L1634.0 1153.3 L1635.5 1152.8 L1637.0 1152.4 L1638.5 1152.0 L1640.0 1151.2 L1641.5 1150.8 L1643.0 1150.6 L1644.5 1149.8 L1646.0 1149.2 L1647.5 1148.6 L1649.0 1148.2 L1650.5 1148.3 L1652.0 1147.7 L1653.5 1146.9 L1655.0 1146.6 L1656.5 1146.0 L1658.0 1145.4 L1659.5 1144.8 L1661.0 1143.9 L1662.5 1143.9 L1664.0 1143.6 L1665.5 1142.8 L1667.0 1142.3 L1668.5 1141.6 L1670.0 1141.3 L1671.5 1141.0 L1673.0 1140.2 L1674.5 1139.8 L1676.0 1139.6 L1677.5 1139.0 L1679.0 1138.5 L1680.5 1137.6 L1682.0 1136.9 L1683.5 1136.9 L1685.0 1136.4 L1686.5 1135.8 L1688.0 1135.4 L1689.5 1134.8 L1691.0 1134.5 L1692.5 1133.8 L1694.0 1132.8 L1695.5 1132.6 L1697.0 1132.2 L1698.5 1131.8 L1700.0 1131.3 L1701.5 1130.4 L1703.0 1130.0 L1704.5 1129.8 L1706.0 1129.0 L1707.5 1128.6 L1709.0 1128.2 L1710.5 1127.9 L1712.0 1127.7 L1713.5 1126.7 L1715.0 1125.8 L1716.5 1125.5 L1718.0 1124.9 L1719.5 1124.5 L1721.0 1123.9 L1722.5 1123.3 L1724.0 1123.2 L1725.5 1122.7 L1727.0 1121.8" fill="none" stroke="#3d3d3d" stroke-width="3.8" stroke-linejoin="round" stroke-linecap="round"/>
<path d="M1163.6 1044.8 L1165.1 1046.4 L1166.6 1046.6 L1168.1 1047.1 L1169.6 1048.3 L1171.1 1049.2 L1172.6 1050.2 L1174.1 1051.1 L1175.6 1051.6 L1177.1 1052.7 L1178.6 1053.6 L1180.1 1053.4 L1181.7 1054.0 L1183.2 1055.7 L1184.7 1056.9 L1186.2 1058.0 L1187.7 1059.0 L1189.2 1059.5 L1190.7 1060.6 L1192.2 1061.6 L1193.7 1061.7 L1195.2 1062.7 L1196.7 1064.3 L1198.2 1065.1 L1199.7 1065.6 L1201.2 1066.2 L1202.7 1066.8 L1204.2 1068.1 L1205.7 1069.4 L1207.2 1069.7 L1208.7 1070.8 L1210.2 1072.1 L1211.7 1072.4 L1213.2 1072.8 L1214.7 1073.6 L1216.3 1074.7 L1217.8 1076.3 L1219.3 1077.6 L1220.8 1077.9 L1222.3 1079.0 L1223.8 1080.2 L1225.3 1080.5 L1226.8 1081.0 L1228.3 1082.1 L1229.8 1083.1 L1231.3 1084.3 L1232.8 1084.9 L1234.3 1084.9 L1235.8 1086.0 L1237.3 1087.5 L1238.8 1088.2 L1240.3 1089.2 L1241.8 1090.6 L1243.3 1091.4 L1244.8 1092.2 L1246.3 1092.7 L1247.8 1092.9 L1249.3 1094.4 L1250.9 1096.1 L1252.4 1096.6 L1253.9 1097.4 L1255.4 1098.5 L1256.9 1099.1 L1258.4 1099.9 L1259.9 1100.6 L1261.4 1101.1 L1262.9 1102.7 L1264.4 1103.9 L1265.9 1104.0 L1267.4 1104.6 L1268.9 1105.9 L1270.4 1106.9 L1271.9 1108.1 L1273.4 1109.3 L1274.9 1110.1 L1276.4 1111.5 L1277.9 1112.3 L1279.4 1112.1 L1280.9 1112.8 L1282.4 1114.3 L1283.9 1115.2 L1285.5 1116.3 L1287.0 1117.1 L1288.5 1117.7 L1290.0 1118.9 L1291.5 1119.8 L1293.0 1120.0 L1294.5 1121.3 L1296.0 1122.9 L1297.5 1123.6 L1299.0 1124.2 L1300.5 1124.9 L1302.0 1125.6 L1303.5 1127.2 L1305.0 1128.4 L1306.5 1128.9 L1308.0 1130.3 L1309.5 1131.7 L1311.0 1131.9 L1312.5 1132.2 L1314.0 1132.9 L1315.5 1133.8 L1317.0 1135.4 L1318.5 1136.4 L1320.0 1136.7 L1321.6 1138.0 L1323.1 1139.3 L1324.6 1139.8 L1326.1 1140.7 L1327.6 1142.0 L1329.1 1143.2 L1330.6 1144.4 L1332.1 1144.9 L1333.6 1145.0 L1335.1 1146.2 L1336.6 1147.6 L1338.1 1148.2 L1339.6 1149.3 L1341.1 1150.7 L1342.6 1151.5 L1344.1 1152.4 L1345.6 1152.7 L1347.1 1153.0 L1348.6 1154.6 L1350.1 1156.1 L1351.6 1156.6 L1353.1 1157.6 L1354.6 1158.9 L1356.2 1159.7 L1357.7 1160.7 L1359.2 1161.6 L1360.7 1162.5 L1362.2 1164.2 L1363.7 1165.3 L1365.2 1165.2 L1366.7 1165.8 L1368.2 1166.9 L1369.7 1167.7 L1371.2 1168.9 L1372.7 1170.0 L1374.2 1171.0 L1375.7 1172.5 L1377.2 1173.3 L1378.7 1173.3 L1380.2 1174.4 L1381.7 1175.9 L1383.2 1176.9 L1384.7 1178.0 L1386.2 1178.8 L1387.7 1179.5 L1389.2 1180.9 L1390.8 1181.7 L1392.3 1182.1 L1393.8 1183.6 L1395.3 1185.2 L1396.8 1185.7 L1398.3 1186.3 L1399.8 1186.8 L1401.3 1187.4 L1402.8 1188.9 L1404.3 1190.0 L1405.8 1190.7 L1407.3 1192.4 L1408.8 1193.9 L1410.3 1194.3 L1411.8 1194.9 L1413.3 1195.9 L1414.8 1196.9 L1416.3 1198.4 L1417.8 1199.2 L1419.3 1199.6 L1420.8 1200.8 L1422.3 1201.9 L1423.8 1202.4 L1425.4 1203.4 L1426.9 1204.7 L1428.4 1205.7 L1429.9 1206.8 L1431.4 1207.5 L1432.9 1208.2 L1434.4 1209.4 L1435.9 1210.4 L1437.4 1211.3 L1438.9 1212.4 L1440.4 1213.4 L1441.9 1214.3 L1443.4 1213.4 L1444.9 1212.5 L1446.4 1211.7 L1447.9 1210.8 L1449.4 1209.8 L1450.9 1208.9 L1452.4 1208.1 L1453.9 1207.5 L1455.4 1206.7 L1456.9 1205.3 L1458.4 1204.2 L1459.9 1203.4 L1461.4 1202.7 L1462.9 1202.3 L1464.4 1201.1 L1465.9 1199.9 L1467.4 1199.5 L1468.9 1198.7 L1470.4 1198.0 L1471.9 1197.1 L1473.4 1195.7 L1474.9 1195.3 L1476.4 1194.4 L1477.9 1192.7 L1479.4 1191.6 L1480.9 1190.5 L1482.4 1190.2 L1483.9 1190.4 L1485.4 1189.0 L1486.9 1187.7 L1488.4 1186.7 L1489.9 1185.9 L1491.4 1185.9 L1492.9 1184.9 L1494.4 1183.3 L1495.9 1182.5 L1497.4 1181.5 L1498.9 1180.8 L1500.4 1180.1 L1501.9 1178.8 L1503.4 1178.4 L1504.9 1178.1 L1506.4 1176.8 L1507.9 1175.6 L1509.4 1174.0 L1510.9 1173.0 L1512.4 1173.2 L1513.9 1172.2 L1515.4 1170.9 L1516.9 1169.8 L1518.4 1168.7 L1519.9 1168.7 L1521.4 1168.4 L1522.9 1167.1 L1524.4 1166.3 L1525.9 1165.2 L1527.4 1164.2 L1528.9 1163.5 L1530.4 1161.8 L1531.9 1160.9 L1533.4 1160.7 L1534.9 1159.9 L1536.4 1159.1 L1537.9 1157.6 L1539.4 1156.2 L1540.9 1156.3 L1542.4 1155.9 L1543.9 1154.8 L1545.4 1153.7 L1546.9 1151.9 L1548.4 1151.3 L1549.9 1151.1 L1551.4 1150.0 L1552.9 1149.3 L1554.4 1148.5 L1555.9 1147.6 L1557.4 1147.2 L1558.9 1145.7 L1560.4 1144.3 L1561.9 1143.8 L1563.4 1143.0 L1564.9 1142.4 L1566.4 1141.1 L1567.9 1139.2 L1569.4 1138.7 L1570.9 1138.6 L1572.4 1138.1 L1573.9 1137.5 L1575.4 1135.9 L1576.9 1134.9 L1578.4 1134.6 L1579.9 1133.4 L1581.4 1132.5 L1582.9 1131.5 L1584.5 1130.4 L1586.0 1130.1 L1587.5 1129.0 L1589.0 1127.5 L1590.5 1126.9 L1592.0 1126.2 L1593.5 1125.9 L1595.0 1125.3 L1596.5 1123.2 L1598.0 1121.9 L1599.5 1121.4 L1601.0 1120.7 L1602.5 1120.5 L1604.0 1119.2 L1605.5 1117.9 L1607.0 1117.7 L1608.5 1116.9 L1610.0 1116.1 L1611.5 1115.2 L1613.0 1113.9 L1614.5 1113.5 L1616.0 1112.6 L1617.5 1110.8 L1619.0 1109.7 L1620.5 1108.7 L1622.0 1108.4 L1623.5 1108.5 L1625.0 1107.1 L1626.5 1105.7 L1628.0 1104.9 L1629.5 1104.1 L1631.0 1103.9 L1632.5 1102.9 L1634.0 1101.3 L1635.5 1100.7 L1637.0 1099.7 L1638.5 1098.9 L1640.0 1098.2 L1641.5 1096.9 L1643.0 1096.5 L1644.5 1096.3 L1646.0 1094.9 L1647.5 1093.6 L1649.0 1092.1 L1650.5 1091.2 L1652.0 1091.3 L1653.5 1090.3 L1655.0 1088.9 L1656.5 1087.9 L1658.0 1086.9 L1659.5 1086.8 L1661.0 1086.5 L1662.5 1085.1 L1664.0 1084.4 L1665.5 1083.4 L1667.0 1082.4 L1668.5 1081.6 L1670.0 1079.9 L1671.5 1079.0 L1673.0 1078.9 L1674.5 1078.0 L1676.0 1077.1 L1677.5 1075.7 L1679.0 1074.4 L1680.5 1074.5 L1682.0 1074.0 L1683.5 1072.8 L1685.0 1071.7 L1686.5 1070.1 L1688.0 1069.4 L1689.5 1069.3 L1691.0 1068.1 L1692.5 1067.3 L1694.0 1066.7 L1695.5 1065.8 L1697.0 1065.3 L1698.5 1063.8 L1700.0 1062.4 L1701.5 1062.0 L1703.0 1061.2 L1704.5 1060.4 L1706.0 1059.1 L1707.5 1057.2 L1709.0 1056.8 L1710.5 1056.8 L1712.0 1056.2 L1713.5 1055.5 L1715.0 1054.0 L1716.5 1053.0 L1718.0 1052.7 L1719.5 1051.5 L1721.0 1050.5 L1722.5 1049.6 L1724.0 1048.6 L1725.5 1048.3 L1727.0 1047.2" fill="none" stroke="#fb2c2c" stroke-width="4.7" stroke-linejoin="round" stroke-linecap="round"/>
<path d="M1163.6 924.9 L1165.1 927.7 L1166.6 930.8 L1168.1 931.7 L1169.6 933.1 L1171.1 934.2 L1172.6 935.2 L1174.1 937.9 L1175.6 939.0 L1177.1 939.3 L1178.6 941.9 L1180.1 943.7 L1181.7 944.7 L1183.2 946.1 L1184.7 946.2 L1186.2 947.9 L1187.7 951.3 L1189.2 952.5 L1190.7 953.5 L1192.2 955.4 L1193.7 956.2 L1195.2 958.2 L1196.7 959.7 L1198.2 959.6 L1199.7 962.0 L1201.2 964.8 L1202.7 965.8 L1204.2 967.3 L1205.7 968.1 L1207.2 969.0 L1208.7 972.2 L1210.2 973.9 L1211.7 974.6 L1213.2 977.0 L1214.7 978.5 L1216.3 979.8 L1217.8 981.4 L1219.3 981.2 L1220.8 982.5 L1222.3 985.7 L1223.8 986.9 L1225.3 987.9 L1226.8 989.4 L1228.3 990.0 L1229.8 992.4 L1231.3 994.5 L1232.8 994.8 L1234.3 997.1 L1235.8 999.8 L1237.3 1001.1 L1238.8 1002.9 L1240.3 1003.2 L1241.8 1003.8 L1243.3 1006.9 L1244.8 1008.6 L1246.3 1009.3 L1247.8 1011.3 L1249.3 1012.5 L1250.9 1014.1 L1252.4 1016.3 L1253.9 1016.3 L1255.4 1017.7 L1256.9 1020.9 L1258.4 1022.4 L1259.9 1023.9 L1261.4 1024.9 L1262.9 1025.1 L1264.4 1027.4 L1265.9 1029.5 L1267.4 1029.8 L1268.9 1031.8 L1270.4 1034.0 L1271.9 1035.5 L1273.4 1037.8 L1274.9 1038.3 L1276.4 1038.9 L1277.9 1042.2 L1279.4 1044.4 L1280.9 1045.5 L1282.4 1047.3 L1283.9 1047.9 L1285.5 1049.5 L1287.0 1051.7 L1288.5 1051.7 L1290.0 1052.8 L1291.5 1055.6 L1293.0 1057.1 L1294.5 1059.0 L1296.0 1060.2 L1297.5 1060.2 L1299.0 1062.8 L1300.5 1065.4 L1302.0 1066.2 L1303.5 1068.2 L1305.0 1069.9 L1306.5 1071.2 L1308.0 1073.6 L1309.5 1074.0 L1311.0 1074.3 L1312.5 1077.2 L1314.0 1079.4 L1315.5 1080.9 L1317.0 1082.8 L1318.5 1083.2 L1320.0 1084.9 L1321.6 1087.7 L1323.1 1088.2 L1324.6 1089.5 L1326.1 1091.9 L1327.6 1093.3 L1329.1 1095.4 L1330.6 1096.4 L1332.1 1096.0 L1333.6 1098.2 L1335.1 1100.8 L1336.6 1101.9 L1338.1 1104.0 L1339.6 1105.3 L1341.1 1106.7 L1342.6 1109.7 L1344.1 1110.6 L1345.6 1111.0 L1347.1 1113.8 L1348.6 1115.9 L1350.1 1117.8 L1351.6 1119.6 L1353.1 1119.4 L1354.6 1120.7 L1356.2 1123.4 L1357.7 1124.2 L1359.2 1125.6 L1360.7 1127.7 L1362.2 1129.0 L1363.7 1131.6 L1365.2 1133.0 L1366.7 1132.8 L1368.2 1135.0 L1369.7 1137.6 L1371.2 1139.1 L1372.7 1141.2 L1374.2 1142.0 L1375.7 1142.9 L1377.2 1145.7 L1378.7 1146.7 L1380.2 1147.3 L1381.7 1149.8 L1383.2 1151.8 L1384.7 1154.1 L1386.2 1156.3 L1387.7 1156.2 L1389.2 1157.5 L1390.8 1160.4 L1392.3 1161.6 L1393.8 1163.3 L1395.3 1164.9 L1396.8 1165.6 L1398.3 1168.1 L1399.8 1169.5 L1401.3 1169.2 L1402.8 1171.2 L1404.3 1173.6 L1405.8 1175.5 L1407.3 1178.1 L1408.8 1178.8 L1410.3 1179.7 L1411.8 1182.7 L1413.3 1184.2 L1414.8 1185.1 L1416.3 1187.3 L1417.8 1188.7 L1419.3 1190.8 L1420.8 1192.8 L1422.3 1193.0 L1423.8 1194.3 L1425.4 1196.5 L1426.9 1198.1 L1428.4 1200.0 L1429.9 1201.6 L1431.4 1202.8 L1432.9 1204.8 L1434.4 1206.5 L1435.9 1207.7 L1437.4 1209.4 L1438.9 1211.0 L1440.4 1212.7 L1441.9 1214.3 L1443.4 1212.8 L1444.9 1211.3 L1446.4 1209.6 L1447.9 1208.2 L1449.4 1206.9 L1450.9 1205.2 L1452.4 1203.6 L1453.9 1202.4 L1455.4 1201.1 L1456.9 1199.9 L1458.4 1199.1 L1459.9 1197.0 L1461.4 1194.6 L1462.9 1193.7 L1464.4 1192.6 L1465.9 1190.5 L1467.4 1189.0 L1468.9 1187.6 L1470.4 1185.5 L1471.9 1184.7 L1473.4 1183.9 L1474.9 1181.1 L1476.4 1179.0 L1477.9 1178.8 L1479.4 1177.8 L1480.9 1176.3 L1482.4 1175.1 L1483.9 1172.8 L1485.4 1170.4 L1486.9 1169.8 L1488.4 1168.7 L1489.9 1166.0 L1491.4 1164.5 L1492.9 1164.1 L1494.4 1162.8 L1495.9 1161.8 L1497.4 1160.8 L1498.9 1158.0 L1500.4 1156.0 L1501.9 1155.9 L1503.4 1154.6 L1504.9 1152.1 L1506.4 1150.7 L1507.9 1149.1 L1509.4 1147.0 L1510.9 1146.0 L1512.4 1144.5 L1513.9 1141.5 L1515.4 1140.3 L1516.9 1140.5 L1518.4 1139.4 L1519.9 1137.8 L1521.4 1136.6 L1522.9 1134.5 L1524.4 1132.7 L1525.9 1132.3 L1527.4 1130.6 L1528.9 1127.7 L1530.4 1126.6 L1531.9 1125.9 L1533.4 1124.1 L1534.9 1122.7 L1536.4 1121.0 L1537.9 1118.4 L1539.4 1117.3 L1540.9 1117.4 L1542.4 1115.7 L1543.9 1113.4 L1545.4 1112.4 L1546.9 1110.9 L1548.4 1108.9 L1549.9 1107.8 L1551.4 1105.7 L1552.9 1102.9 L1554.4 1102.3 L1555.9 1102.3 L1557.4 1100.5 L1558.9 1098.7 L1560.4 1097.6 L1561.9 1095.7 L1563.4 1094.5 L1564.9 1094.1 L1566.4 1092.0 L1567.9 1089.4 L1569.4 1088.8 L1570.9 1087.8 L1572.4 1085.4 L1573.9 1083.5 L1575.4 1081.5 L1576.9 1079.1 L1578.4 1078.6 L1579.9 1078.5 L1581.4 1076.3 L1582.9 1074.4 L1584.5 1073.9 L1586.0 1072.6 L1587.5 1070.7 L1589.0 1069.5 L1590.5 1067.3 L1592.0 1065.1 L1593.5 1064.9 L1595.0 1064.2 L1596.5 1061.5 L1598.0 1059.5 L1599.5 1058.4 L1601.0 1056.6 L1602.5 1055.6 L1604.0 1054.9 L1605.5 1052.6 L1607.0 1050.7 L1608.5 1050.6 L1610.0 1049.3 L1611.5 1046.5 L1613.0 1044.6 L1614.5 1042.8 L1616.0 1040.8 L1617.5 1040.4 L1619.0 1039.6 L1620.5 1037.0 L1622.0 1035.4 L1623.5 1035.2 L1625.0 1033.7 L1626.5 1031.9 L1628.0 1030.8 L1629.5 1028.9 L1631.0 1027.3 L1632.5 1027.3 L1634.0 1025.7 L1635.5 1022.5 L1637.0 1020.6 L1638.5 1019.4 L1640.0 1017.5 L1641.5 1016.4 L1643.0 1015.3 L1644.5 1012.9 L1646.0 1011.8 L1647.5 1011.9 L1649.0 1010.1 L1650.5 1007.4 L1652.0 1006.1 L1653.5 1004.7 L1655.0 1003.2 L1656.5 1002.7 L1658.0 1001.0 L1659.5 998.1 L1661.0 996.9 L1662.5 996.4 L1664.0 994.3 L1665.5 992.5 L1667.0 991.5 L1668.5 989.9 L1670.0 988.9 L1671.5 988.7 L1673.0 986.4 L1674.5 983.3 L1676.0 982.0 L1677.5 980.9 L1679.0 978.8 L1680.5 977.5 L1682.0 976.0 L1683.5 973.8 L1685.0 973.1 L1686.5 972.8 L1688.0 970.4 L1689.5 968.1 L1691.0 967.5 L1692.5 966.5 L1694.0 965.3 L1695.5 964.6 L1697.0 962.3 L1698.5 959.5 L1700.0 958.7 L1701.5 957.6 L1703.0 954.9 L1704.5 953.1 L1706.0 952.1 L1707.5 950.6 L1709.0 949.8 L1710.5 949.1 L1712.0 946.4 L1713.5 944.0 L1715.0 943.6 L1716.5 942.6 L1718.0 940.5 L1719.5 939.2 L1721.0 937.5 L1722.5 935.4 L1724.0 934.8 L1725.5 933.7 L1727.0 930.7" fill="none" stroke="#0b5be6" stroke-width="5.0" stroke-linejoin="round" stroke-linecap="round"/>
<path d="M1163.6 817.2 L1165.1 818.4 L1166.6 818.9 L1168.1 821.1 L1169.6 823.9 L1171.1 825.8 L1172.6 828.2 L1174.1 831.3 L1175.6 833.4 L1177.1 834.8 L1178.6 837.4 L1180.1 840.1 L1181.7 841.2 L1183.2 842.5 L1184.7 845.5 L1186.2 848.3 L1187.7 849.8 L1189.2 851.5 L1190.7 853.7 L1192.2 855.0 L1193.7 856.7 L1195.2 860.3 L1196.7 863.4 L1198.2 864.6 L1199.7 866.1 L1201.2 868.8 L1202.7 870.7 L1204.2 871.9 L1205.7 874.2 L1207.2 876.8 L1208.7 878.5 L1210.2 880.7 L1211.7 884.0 L1213.2 886.1 L1214.7 886.8 L1216.3 888.8 L1217.8 892.1 L1219.3 894.6 L1220.8 896.5 L1222.3 898.9 L1223.8 900.7 L1225.3 901.3 L1226.8 903.1 L1228.3 906.2 L1229.8 908.2 L1231.3 909.5 L1232.8 912.2 L1234.3 915.4 L1235.8 917.2 L1237.3 918.9 L1238.8 921.4 L1240.3 923.4 L1241.8 924.9 L1243.3 927.9 L1244.8 931.2 L1246.3 932.5 L1247.8 933.1 L1249.3 935.3 L1250.9 937.9 L1252.4 939.7 L1253.9 942.2 L1255.4 945.3 L1256.9 947.1 L1258.4 948.4 L1259.9 951.2 L1261.4 953.7 L1262.9 954.7 L1264.4 956.1 L1265.9 959.2 L1267.4 961.9 L1268.9 963.5 L1270.4 965.7 L1271.9 967.9 L1273.4 969.2 L1274.9 971.0 L1276.4 974.8 L1277.9 978.0 L1279.4 979.3 L1280.9 981.1 L1282.4 983.7 L1283.9 985.4 L1285.5 986.6 L1287.0 989.0 L1288.5 991.4 L1290.0 992.8 L1291.5 995.0 L1293.0 998.3 L1294.5 1000.4 L1296.0 1001.2 L1297.5 1003.3 L1299.0 1006.6 L1300.5 1009.0 L1302.0 1011.3 L1303.5 1014.1 L1305.0 1015.9 L1306.5 1016.6 L1308.0 1018.6 L1309.5 1021.8 L1311.0 1023.8 L1312.5 1025.2 L1314.0 1028.0 L1315.5 1031.0 L1317.0 1032.7 L1318.5 1034.5 L1320.0 1037.0 L1321.6 1038.7 L1323.1 1040.2 L1324.6 1043.2 L1326.1 1046.5 L1327.6 1047.8 L1329.1 1048.7 L1330.6 1050.9 L1332.1 1053.4 L1333.6 1055.3 L1335.1 1058.2 L1336.6 1061.4 L1338.1 1063.3 L1339.6 1064.8 L1341.1 1067.8 L1342.6 1070.4 L1344.1 1071.4 L1345.6 1073.0 L1347.1 1075.9 L1348.6 1078.4 L1350.1 1080.0 L1351.6 1082.3 L1353.1 1084.5 L1354.6 1085.4 L1356.2 1087.3 L1357.7 1091.1 L1359.2 1094.2 L1360.7 1095.7 L1362.2 1097.7 L1363.7 1100.4 L1365.2 1102.1 L1366.7 1103.6 L1368.2 1106.3 L1369.7 1108.8 L1371.2 1110.2 L1372.7 1112.6 L1374.2 1116.0 L1375.7 1118.1 L1377.2 1118.9 L1378.7 1121.1 L1380.2 1124.1 L1381.7 1126.4 L1383.2 1128.8 L1384.7 1131.7 L1386.2 1133.3 L1387.7 1133.9 L1389.2 1136.0 L1390.8 1139.1 L1392.3 1141.1 L1393.8 1142.7 L1395.3 1145.7 L1396.8 1148.6 L1398.3 1150.4 L1399.8 1152.7 L1401.3 1155.4 L1402.8 1157.1 L1404.3 1158.6 L1405.8 1161.8 L1407.3 1165.1 L1408.8 1166.4 L1410.3 1167.4 L1411.8 1169.6 L1413.3 1171.7 L1414.8 1173.5 L1416.3 1176.5 L1417.8 1179.5 L1419.3 1181.3 L1420.8 1183.0 L1422.3 1185.9 L1423.8 1188.3 L1425.4 1189.8 L1426.9 1191.8 L1428.4 1194.5 L1429.9 1196.7 L1431.4 1198.8 L1432.9 1201.2 L1434.4 1203.4 L1435.9 1205.3 L1437.4 1207.5 L1438.9 1209.9 L1440.4 1212.2 L1441.9 1214.3 L1443.4 1212.2 L1444.9 1210.2 L1446.4 1208.1 L1447.9 1206.1 L1449.4 1204.0 L1450.9 1201.6 L1452.4 1199.4 L1453.9 1197.9 L1455.4 1196.0 L1456.9 1193.6 L1458.4 1191.9 L1459.9 1190.3 L1461.4 1187.9 L1462.9 1185.4 L1464.4 1183.0 L1465.9 1180.0 L1467.4 1177.9 L1468.9 1177.0 L1470.4 1174.8 L1471.9 1171.9 L1473.4 1170.4 L1474.9 1169.1 L1476.4 1166.6 L1477.9 1164.5 L1479.4 1162.6 L1480.9 1160.4 L1482.4 1159.0 L1483.9 1158.0 L1485.4 1155.2 L1486.9 1151.7 L1488.4 1149.9 L1489.9 1148.0 L1491.4 1145.1 L1492.9 1142.9 L1494.4 1141.3 L1495.9 1139.4 L1497.4 1138.1 L1498.9 1136.9 L1500.4 1133.9 L1501.9 1130.6 L1503.4 1129.2 L1504.9 1127.5 L1506.4 1124.7 L1507.9 1122.5 L1509.4 1120.8 L1510.9 1118.6 L1512.4 1116.9 L1513.9 1115.2 L1515.4 1112.1 L1516.9 1109.5 L1518.4 1108.8 L1519.9 1107.6 L1521.4 1105.1 L1522.9 1103.2 L1524.4 1101.4 L1525.9 1098.8 L1527.4 1096.5 L1528.9 1094.2 L1530.4 1090.7 L1531.9 1088.2 L1533.4 1087.5 L1534.9 1086.0 L1536.4 1083.2 L1537.9 1081.3 L1539.4 1079.7 L1540.9 1077.3 L1542.4 1075.4 L1543.9 1073.6 L1545.4 1070.8 L1546.9 1068.9 L1548.4 1068.2 L1549.9 1066.0 L1551.4 1062.6 L1552.9 1060.3 L1554.4 1058.4 L1555.9 1056.1 L1557.4 1054.3 L1558.9 1052.7 L1560.4 1050.3 L1561.9 1048.8 L1563.4 1048.0 L1564.9 1045.4 L1566.4 1041.7 L1567.9 1039.5 L1569.4 1037.7 L1570.9 1035.2 L1572.4 1033.2 L1573.9 1031.3 L1575.4 1028.8 L1576.9 1027.1 L1578.4 1026.0 L1579.9 1023.2 L1581.4 1020.2 L1582.9 1019.0 L1584.5 1018.0 L1586.0 1015.9 L1587.5 1014.0 L1589.0 1012.0 L1590.5 1009.0 L1592.0 1006.9 L1593.5 1005.1 L1595.0 1001.9 L1596.5 998.9 L1598.0 997.9 L1599.5 996.8 L1601.0 994.5 L1602.5 992.5 L1604.0 990.4 L1605.5 987.7 L1607.0 985.9 L1608.5 984.3 L1610.0 981.3 L1611.5 978.7 L1613.0 977.8 L1614.5 976.2 L1616.0 973.2 L1617.5 970.8 L1619.0 968.6 L1620.5 966.3 L1622.0 965.0 L1623.5 963.8 L1625.0 961.3 L1626.5 959.2 L1628.0 958.4 L1629.5 956.3 L1631.0 952.8 L1632.5 950.1 L1634.0 947.9 L1635.5 945.4 L1637.0 943.8 L1638.5 942.2 L1640.0 939.3 L1641.5 937.2 L1643.0 936.3 L1644.5 934.1 L1646.0 931.0 L1647.5 929.1 L1649.0 927.7 L1650.5 925.8 L1652.0 924.3 L1653.5 922.3 L1655.0 919.0 L1656.5 916.6 L1658.0 915.3 L1659.5 912.7 L1661.0 909.7 L1662.5 908.3 L1664.0 907.2 L1665.5 905.4 L1667.0 903.7 L1668.5 901.4 L1670.0 898.2 L1671.5 896.0 L1673.0 894.7 L1674.5 891.9 L1676.0 888.8 L1677.5 887.4 L1679.0 885.9 L1680.5 883.5 L1682.0 881.3 L1683.5 879.0 L1685.0 876.3 L1686.5 874.9 L1688.0 874.3 L1689.5 871.9 L1691.0 869.4 L1692.5 868.1 L1694.0 866.4 L1695.5 863.3 L1697.0 860.7 L1698.5 858.1 L1700.0 855.4 L1701.5 854.0 L1703.0 853.0 L1704.5 850.3 L1706.0 847.7 L1707.5 846.5 L1709.0 844.7 L1710.5 841.8 L1712.0 839.6 L1713.5 837.6 L1715.0 835.3 L1716.5 834.0 L1718.0 832.4 L1719.5 829.1 L1721.0 826.2 L1722.5 824.9 L1724.0 823.0 L1725.5 820.3 L1727.0 818.7" fill="none" stroke="#22a559" stroke-width="5.0" stroke-linejoin="round" stroke-linecap="round"/>
<rect x="1096.2" y="732.5" width="699.70" height="563.80" fill="none" stroke="#3c3c3c" stroke-width="2.5"/>
<path d="M1096.2 813.04h10.5M1096.2 893.59h10.5M1096.2 974.13h10.5M1096.2 1054.67h10.5M1096.2 1135.21h10.5M1096.2 1215.76h10.5" stroke="#404040" stroke-width="2.1" fill="none"/>
<path d="M1096.2 772.77h5.0M1096.2 853.31h5.0M1096.2 933.86h5.0M1096.2 1014.40h5.0M1096.2 1094.94h5.0M1096.2 1175.49h5.0M1096.2 1256.03h5.0" stroke="#404040" stroke-width="2.1" fill="none"/>
<path d="M1166.17 1296.3v-10.5M1236.14 1296.3v-10.5M1306.11 1296.3v-10.5M1376.08 1296.3v-10.5M1446.05 1296.3v-10.5M1516.02 1296.3v-10.5M1585.99 1296.3v-10.5M1655.96 1296.3v-10.5M1725.93 1296.3v-10.5" stroke="#404040" stroke-width="2.1" fill="none"/>
<path d="M1131.18 1296.3v-5.0M1201.15 1296.3v-5.0M1271.12 1296.3v-5.0M1341.10 1296.3v-5.0M1411.07 1296.3v-5.0M1481.04 1296.3v-5.0M1551.01 1296.3v-5.0M1620.98 1296.3v-5.0M1690.95 1296.3v-5.0M1760.91 1296.3v-5.0" stroke="#404040" stroke-width="2.1" fill="none"/>
<text transform="translate(1083.0 1308.5) scale(1 1.07)" font-size="37.2" font-weight="bold" text-anchor="end">-0.01</text>
<text transform="translate(1083.0 1228.0) scale(1 1.07)" font-size="37.2" font-weight="bold" text-anchor="end">0.00</text>
<text transform="translate(1083.0 1147.4) scale(1 1.07)" font-size="37.2" font-weight="bold" text-anchor="end">0.01</text>
<text transform="translate(1083.0 1066.9) scale(1 1.07)" font-size="37.2" font-weight="bold" text-anchor="end">0.02</text>
<text transform="translate(1083.0 986.3) scale(1 1.07)" font-size="37.2" font-weight="bold" text-anchor="end">0.03</text>
<text transform="translate(1083.0 905.8) scale(1 1.07)" font-size="37.2" font-weight="bold" text-anchor="end">0.04</text>
<text transform="translate(1083.0 825.2) scale(1 1.07)" font-size="37.2" font-weight="bold" text-anchor="end">0.05</text>
<text transform="translate(1083.0 744.7) scale(1 1.07)" font-size="37.2" font-weight="bold" text-anchor="end">0.06</text>
<text transform="translate(1096.2 1338.0) scale(1 1.07)" font-size="37.2" font-weight="bold" text-anchor="middle">-50</text>
<text transform="translate(1166.2 1338.0) scale(1 1.07)" font-size="37.2" font-weight="bold" text-anchor="middle">-40</text>
<text transform="translate(1236.1 1338.0) scale(1 1.07)" font-size="37.2" font-weight="bold" text-anchor="middle">-30</text>
<text transform="translate(1306.1 1338.0) scale(1 1.07)" font-size="37.2" font-weight="bold" text-anchor="middle">-20</text>
<text transform="translate(1376.1 1338.0) scale(1 1.07)" font-size="37.2" font-weight="bold" text-anchor="middle">-10</text>
<text transform="translate(1446.1 1338.0) scale(1 1.07)" font-size="37.2" font-weight="bold" text-anchor="middle">0</text>
<text transform="translate(1516.0 1338.0) scale(1 1.07)" font-size="37.2" font-weight="bold" text-anchor="middle">10</text>
<text transform="translate(1586.0 1338.0) scale(1 1.07)" font-size="37.2" font-weight="bold" text-anchor="middle">20</text>
<text transform="translate(1656.0 1338.0) scale(1 1.07)" font-size="37.2" font-weight="bold" text-anchor="middle">30</text>
<text transform="translate(1725.9 1338.0) scale(1 1.07)" font-size="37.2" font-weight="bold" text-anchor="middle">40</text>
<text transform="translate(1795.9 1338.0) scale(1 1.07)" font-size="37.2" font-weight="bold" text-anchor="middle">50</text>
<text transform="translate(1435 1390) scale(1 1.07)" font-size="48.2" font-weight="bold" text-anchor="middle">Y(mm)</text>
<text transform="translate(999.4 1022.2) rotate(-90) scale(1 1.07)" font-size="48.2" font-weight="bold" text-anchor="middle">Displacement Y(mm)</text>
<text transform="translate(1229.8 819)" font-size="86" font-weight="normal" text-anchor="middle">(c)</text>
<path d="M1373.8 793.9H1445.8" stroke="#3d3d3d" stroke-width="3.8" stroke-linecap="round" fill="none"/>
<text transform="translate(1454.0 804.2)" font-size="32.3" font-weight="bold" text-anchor="start">0.5C</text>
<path d="M1373.8 833.8H1445.8" stroke="#fb2c2c" stroke-width="4.8" stroke-linecap="round" fill="none"/>
<text transform="translate(1454.0 844.1)" font-size="32.3" font-weight="bold" text-anchor="start">1.0C</text>
<path d="M1373.8 873.7H1445.8" stroke="#0b5be6" stroke-width="4.8" stroke-linecap="round" fill="none"/>
<text transform="translate(1454.0 884.0)" font-size="32.3" font-weight="bold" text-anchor="start">1.5C</text>
<path d="M1373.8 913.6H1445.8" stroke="#22a559" stroke-width="4.8" stroke-linecap="round" fill="none"/>
<text transform="translate(1454.0 923.9)" font-size="32.3" font-weight="bold" text-anchor="start">2.0C</text>
</svg>
</body></html>
